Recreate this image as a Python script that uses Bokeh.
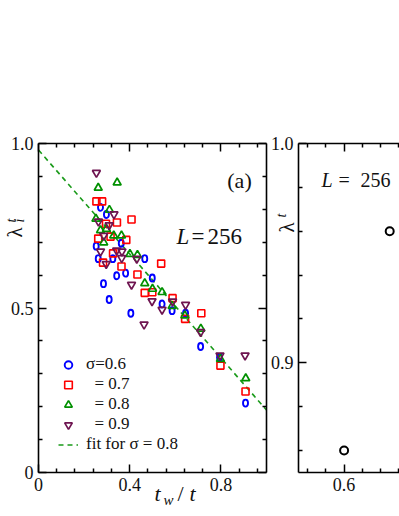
from math import pi
from bokeh.plotting import figure
from bokeh.models import (Range1d, LinearAxis, FixedTicker, Label, Legend, LegendItem,
                          CustomLabelingPolicy)
from bokeh.layouts import row
from bokeh.embed import file_html
from bokeh.resources import INLINE

# ---------------- data (left panel) ----------------
sig06_x = [0.272, 0.298, 0.253, 0.363, 0.262, 0.326, 0.466, 0.343, 0.382, 0.499,
           0.285, 0.310, 0.405, 0.542, 0.586, 0.645, 0.711, 0.794, 0.908]
sig06_y = [0.806, 0.784, 0.688, 0.697, 0.650, 0.650, 0.650, 0.598, 0.606, 0.591,
           0.574, 0.526, 0.484, 0.512, 0.492, 0.484, 0.383, 0.350, 0.211]

sig07_x = [0.254, 0.279, 0.296, 0.344, 0.408, 0.316, 0.262, 0.385, 0.327, 0.283,
           0.364, 0.538, 0.434, 0.466, 0.499, 0.588, 0.643, 0.714, 0.798, 0.908]
sig07_y = [0.824, 0.824, 0.756, 0.760, 0.769, 0.717, 0.711, 0.707, 0.666, 0.638,
           0.626, 0.635, 0.602, 0.546, 0.548, 0.530, 0.467, 0.484, 0.325, 0.246]

sig08_x = [0.262, 0.345, 0.311, 0.252, 0.272, 0.298, 0.286, 0.330, 0.364, 0.401,
           0.434, 0.466, 0.500, 0.542, 0.586, 0.642, 0.712, 0.798, 0.909]
sig08_y = [0.865, 0.881, 0.798, 0.771, 0.736, 0.740, 0.699, 0.720, 0.720, 0.664,
           0.661, 0.575, 0.558, 0.548, 0.506, 0.477, 0.437, 0.345, 0.286]

sig09_x = [0.254, 0.331, 0.263, 0.310, 0.286, 0.272, 0.343, 0.366, 0.365, 0.297,
           0.431, 0.408, 0.498, 0.542, 0.588, 0.645, 0.463, 0.711, 0.796, 0.906]
sig09_y = [0.911, 0.785, 0.763, 0.752, 0.720, 0.672, 0.675, 0.672, 0.652, 0.634,
           0.650, 0.571, 0.521, 0.495, 0.520, 0.510, 0.450, 0.427, 0.356, 0.356]

fit_x = [0.0, 1.0]
fit_y = [0.98, 0.19]

legend_labels = ["σ=0.6", "\u00a0\u00a0= 0.7", "\u00a0\u00a0= 0.8", "\u00a0\u00a0= 0.9",
                 "fit for σ = 0.8"]

left_x_major = [0.0, 0.4, 0.8]
left_x_minor = [0.08, 0.16, 0.24, 0.32, 0.48, 0.56, 0.64, 0.72, 0.88, 0.96]
left_x_labels = {0.0: "0", 0.4: "0.4", 0.8: "0.8"}
left_y_major = [0.0, 0.5, 1.0]
left_y_minor = [0.1, 0.2, 0.3, 0.4, 0.6, 0.7, 0.8, 0.9]
left_y_labels = {0.0: "0", 0.5: "0.5", 1.0: "1.0"}

# ---------------- data (right panel) ----------------
right_x = [0.6, 0.8]
right_y = [0.86, 0.96]
right_x_major = [0.6, 1.0]
right_x_minor = [0.44, 0.52, 0.68, 0.76, 0.84]
right_x_labels = {0.6: "0.6", 1.0: "1.0"}
right_y_major = [0.9, 1.0]
right_y_minor = [0.86, 0.88, 0.92, 0.94, 0.96, 0.98]
right_y_labels = {0.9: "0.9", 1.0: "1.0"}

SERIF = "Liberation Serif"
BLUE = "#0000ff"
RED = "#ff0000"
GREEN = "#009000"
PURPLE = "#6e1450"
FITC = "#1a9a1a"
TXT = "#111111"

# pixel layout (canvas == frame; axes drawn at fixed locations)
W1, W2, H = 270, 129, 508
L_X0, L_PX_PER_X = 38, 228.0      # left panel: x=0 at px 38
L_Y0, L_PX_PER_Y = 472, 329.0     # left panel: y=0 at px 472
R_X0, R_X0V, R_PX_PER_X = 28, 0.4, 228.0   # right panel: x=0.4 at canvas px 28
R_Y0, R_Y0V, R_PX_PER_Y = 472, 0.85, 329.0 / 0.15

HIDE = CustomLabelingPolicy(code="""
for (const i of Array.from(indices)) { indices.unset(i) }
return indices
""")


def style_axis(ax, major, minor, loc, bounds, labels=None):
    ax.ticker = FixedTicker(ticks=major, minor_ticks=minor)
    ax.fixed_location = loc
    ax.bounds = bounds
    ax.major_tick_in = 8
    ax.major_tick_out = 0
    ax.minor_tick_in = 4
    ax.minor_tick_out = 0
    ax.axis_line_width = 1.6
    ax.major_tick_line_width = 1.5
    ax.minor_tick_line_width = 1.5
    ax.axis_line_color = "black"
    ax.major_tick_line_color = "black"
    ax.minor_tick_line_color = "black"
    ax.major_label_text_font = SERIF
    ax.major_label_text_font_size = "18px"
    ax.major_label_text_color = TXT
    if labels:
        ax.major_label_overrides = labels
        ax.major_label_standoff = 5
    else:
        ax.major_label_policy = HIDE
        ax.major_label_standoff = 0


def add_text(p, x, y, text, size, italic=False, align="left", angle=0.0):
    p.add_layout(Label(x=x, y=y, text=text, text_font=SERIF, text_font_size=size,
                       text_font_style="italic" if italic else "normal",
                       text_align=align, text_baseline="middle", angle=angle,
                       text_color=TXT))


def base_figure(w, xr, yr):
    p = figure(width=w, height=H, x_range=Range1d(*xr), y_range=Range1d(*yr),
               output_backend="svg", toolbar_location=None, title=None,
               x_axis_location=None, y_axis_location=None,
               min_border_left=0, min_border_right=0, min_border_top=0, min_border_bottom=0)
    p.grid.visible = False
    p.outline_line_color = None
    return p


# ---------------- left figure ----------------
p1 = base_figure(W1,
                 (-L_X0 / L_PX_PER_X, (W1 - L_X0) / L_PX_PER_X),
                 (-(H - L_Y0) / L_PX_PER_Y, L_Y0 / L_PX_PER_Y))

for side, major, minor, loc, lab in [("below", left_x_major, left_x_minor, 0.0, left_x_labels),
                                     ("above", left_x_major, left_x_minor, 1.0, None),
                                     ("left", left_y_major, left_y_minor, 0.0, left_y_labels),
                                     ("right", left_y_major, left_y_minor, 1.0, None)]:
    ax = LinearAxis()
    style_axis(ax, major, minor, loc, (0.0, 1.0), lab)
    p1.add_layout(ax, side)

r_fit = p1.line(fit_x, fit_y, line_color=FITC, line_width=1.6, line_dash="5 4")
p1.ellipse(x=sig06_x, y=sig06_y, width=5, height=7, width_units="screen",
           height_units="screen", fill_color=None, line_color=BLUE, line_width=1.9)
r06 = p1.scatter(sig06_x, sig06_y, marker="circle", size=6, fill_color=None,
                 line_color=BLUE, line_width=1.9, visible=False)
r07 = p1.scatter(sig07_x, sig07_y, marker="square", size=7, fill_color=None,
                 line_color=RED, line_width=1.6)
r08 = p1.scatter(sig08_x, sig08_y, marker="triangle", size=8, fill_color=None,
                 line_color=GREEN, line_width=1.7)
r09 = p1.scatter(sig09_x, sig09_y, marker="inverted_triangle", size=8, fill_color=None,
                 line_color=PURPLE, line_width=1.7)

legend = Legend(items=[LegendItem(label=legend_labels[0], renderers=[r06]),
                       LegendItem(label=legend_labels[1], renderers=[r07]),
                       LegendItem(label=legend_labels[2], renderers=[r08]),
                       LegendItem(label=legend_labels[3], renderers=[r09]),
                       LegendItem(label=legend_labels[4], renderers=[r_fit])],
                location=(58, 54), border_line_color=None, background_fill_alpha=0,
                inactive_fill_alpha=0, padding=0, margin=0, spacing=0,
                label_height=19, glyph_height=19, glyph_width=20, label_standoff=8,
                label_text_font=SERIF, label_text_font_size="17px", label_text_color=TXT)
p1.add_layout(legend, "center")


def lx(px):
    return (px - L_X0) / L_PX_PER_X


def ly(py):
    return (L_Y0 - py) / L_PX_PER_Y


# axis labels: lambda_i^t (rotated) and t_w/t
add_text(p1, lx(14), ly(232), "λ", "21px", angle=pi / 2, align="center")
add_text(p1, lx(11), ly(220), "t", "14px", italic=True, angle=pi / 2, align="center")
add_text(p1, lx(19), ly(220), "i", "14px", italic=True, angle=pi / 2, align="center")
add_text(p1, lx(154), ly(493), "t", "22px", italic=True)
add_text(p1, lx(163), ly(499), "w", "15px", italic=True)
add_text(p1, lx(177), ly(493), "/", "22px")
add_text(p1, lx(189), ly(493), "t", "22px", italic=True)

add_text(p1, lx(239), ly(180), "(a)", "22px", align="center")
add_text(p1, lx(176), ly(236), "L", "23px", italic=True)
add_text(p1, lx(191), ly(236), "=", "23px")
add_text(p1, lx(207), ly(236), "256", "23px")

# ---------------- right figure ----------------
p2 = base_figure(W2,
                 (R_X0V - R_X0 / R_PX_PER_X, R_X0V + (W2 - R_X0) / R_PX_PER_X),
                 (R_Y0V - (H - R_Y0) / R_PX_PER_Y, R_Y0V + R_Y0 / R_PX_PER_Y))

x_end = R_X0V + (W2 - R_X0) / R_PX_PER_X
for side, major, minor, loc, bnds, lab in [
        ("below", right_x_major, right_x_minor, 0.85, (0.4, x_end), right_x_labels),
        ("above", right_x_major, right_x_minor, 1.0, (0.4, x_end), None),
        ("left", right_y_major, right_y_minor, 0.4, (0.85, 1.0), right_y_labels)]:
    ax = LinearAxis()
    style_axis(ax, major, minor, loc, bnds, lab)
    p2.add_layout(ax, side)

p2.scatter(right_x, right_y, marker="circle", size=8, fill_color=None,
           line_color="black", line_width=2)


def rx(px):
    return R_X0V + (px - 270 - R_X0) / R_PX_PER_X


def ry(py):
    return R_Y0V + (R_Y0 - py) / R_PX_PER_Y


add_text(p2, rx(286), ry(227), "λ", "21px", angle=pi / 2, align="center")
add_text(p2, rx(281), ry(215), "t", "14px", italic=True, angle=pi / 2, align="center")
add_text(p2, rx(321), ry(179), "L", "20px", italic=True)
add_text(p2, rx(338), ry(179), "=", "20px")
add_text(p2, rx(360), ry(179), "256", "20px")

layout = row(p1, p2)
open("out.html", "w").write(file_html(layout, INLINE))
